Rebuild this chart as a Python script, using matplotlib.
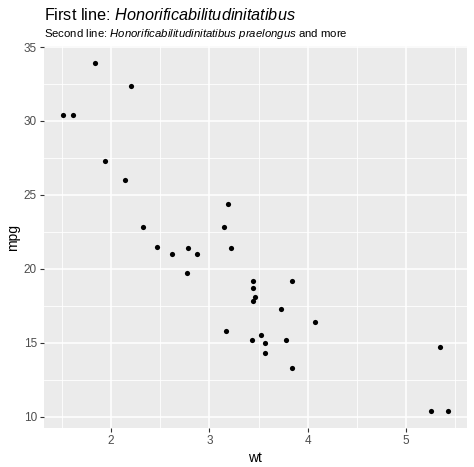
import matplotlib
matplotlib.use("Agg")
import matplotlib.pyplot as plt
import numpy as np

wt = [2.620, 2.875, 2.320, 3.215, 3.440, 3.460, 3.570, 3.190, 3.150, 3.440, 3.440,
      4.070, 3.730, 3.780, 5.250, 5.424, 5.345, 2.200, 1.615, 1.835, 2.465, 3.520,
      3.435, 3.840, 3.845, 1.935, 2.140, 1.513, 3.170, 2.770, 3.570, 2.780]
mpg = [21.0, 21.0, 22.8, 21.4, 18.7, 18.1, 14.3, 24.4, 22.8, 19.2, 17.8,
       16.4, 17.3, 15.2, 10.4, 10.4, 14.7, 32.4, 30.4, 33.9, 21.5, 15.5,
       15.2, 13.3, 19.2, 27.3, 26.0, 30.4, 15.8, 19.7, 15.0, 21.4]
xticks = [2, 3, 4, 5]
yticks = [10, 15, 20, 25, 30, 35]
xminor = [1.5, 2.5, 3.5, 4.5, 5.5]
yminor = [12.5, 17.5, 22.5, 27.5, 32.5]

plt.rcParams['font.family'] = ['Liberation Sans', 'DejaVu Sans']
plt.rcParams['mathtext.fontset'] = 'custom'
plt.rcParams['mathtext.rm'] = 'Liberation Sans'
plt.rcParams['mathtext.it'] = 'Liberation Sans:italic'

fig = plt.figure(figsize=(4.74, 4.67), dpi=100)
ax = fig.add_axes([0.0928, 0.0835, 0.985 - 0.0928, 0.9015 - 0.0835])
ax.set_facecolor('#EBEBEB')
for s in ax.spines.values():
    s.set_visible(False)

xr = max(wt) - min(wt)
yr = max(mpg) - min(mpg)
ax.set_xlim(min(wt) - 0.05 * xr, max(wt) + 0.05 * xr)
ax.set_ylim(min(mpg) - 0.05 * yr, max(mpg) + 0.05 * yr)

for v in xminor:
    ax.axvline(v, color='white', lw=0.6, zorder=0.5)
for v in yminor:
    ax.axhline(v, color='white', lw=0.6, zorder=0.5)
for v in xticks:
    ax.axvline(v, color='white', lw=1.1, zorder=0.6)
for v in yticks:
    ax.axhline(v, color='white', lw=1.1, zorder=0.6)

ax.scatter(wt, mpg, s=14, color='black', linewidths=0, zorder=3)

ax.set_xticks(xticks)
ax.set_yticks(yticks)
ax.tick_params(axis='both', length=3, width=0.8, color='#333333', labelcolor='#4D4D4D',
               labelsize=8.5, pad=2)
ax.set_xlabel('wt', fontsize=10, color='black', labelpad=3)
ax.set_ylabel('mpg', fontsize=10, color='black', labelpad=3)

fig.text(0.0928, 0.968, r'First line: $\mathit{Honorificabilitudinitatibus}$',
         fontsize=11.7, ha='left', va='center', color='black')
fig.text(0.0928, 0.928, r'Second line: $\mathit{Honorificabilitudinitatibus\ praelongus}$ and more',
         fontsize=8.2, ha='left', va='center', color='black')

fig.savefig('out.png', dpi=100)
